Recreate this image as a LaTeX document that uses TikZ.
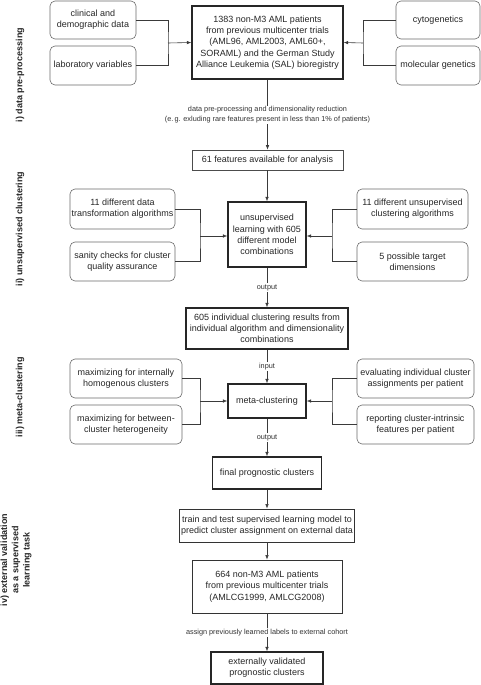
\documentclass[tikz,border=0pt]{standalone}
\usepackage{fontspec}
\setmainfont{Liberation Sans}
\usetikzlibrary{arrows.meta}
\definecolor{ln}{HTML}{3A3A3A}
\definecolor{rb}{HTML}{6A6A6A}
\tikzset{
  base/.style={align=center, inner sep=0pt, font=\fontsize{9}{11.2}\selectfont, text=black!85},
  rbox/.style={base, draw=rb, line width=0.6pt, rounded corners=5pt},
  tbox/.style={base, draw=black!85, line width=1.3pt},
  mbox/.style={base, draw=black!80, line width=0.9pt},
  sbox/.style={base, draw=black!70, line width=0.6pt},
  con/.style={draw=ln, line width=0.6pt},
  arr/.style={con, -{Latex[length=4.5pt,width=3.5pt]}},
  lbl/.style={fill=white, inner sep=1pt, align=center, font=\fontsize{7.3}{9.5}\selectfont, text=black!80},
  side/.style={rotate=90, align=center, font=\bfseries\fontsize{9}{11.3}\selectfont, text=black!85},
}
\begin{document}
\begin{tikzpicture}[x=1pt,y=-1pt]
\useasboundingbox (0,0) rectangle (481,685);
% level i
\node[rbox, minimum width=86, minimum height=38] (clin) at (93,20) {clinical and\\demographic data};
\node[rbox, minimum width=86, minimum height=39] (lab) at (93,65.5) {laboratory variables};
\node[tbox, minimum width=151, minimum height=73] (main) at (267.5,42.5) {1383 non-M3 AML patients\\from previous multicenter trials\\(AML96, AML2003, AML60+,\\SORAML) and the German Study\\Alliance Leukemia (SAL) bioregistry};
\node[rbox, minimum width=84, minimum height=38] (cyto) at (438,20) {cytogenetics};
\node[rbox, minimum width=84, minimum height=39] (mol) at (438,65.5) {molecular genetics};
\coordinate (jl1) at (168,43);
\coordinate (jr1) at (363,43);
\draw[con] (clin.east) -| (jl1) |- (lab.east);
\draw[arr] (jl1) -- (main.west);
\draw[con] (cyto.west) -| (jr1) |- (mol.west);
\draw[arr] (jr1) -- (main.east);
\node[sbox, minimum width=151, minimum height=20] (feat) at (267.5,160) {61 features available for analysis};
\draw[arr] (main.south) -- (feat.north) node[midway, lbl] {data pre-processing and dimensionality reduction\\(e.\,g. exluding rare features present in less than 1\% of patients)};
\node[side] (s1) at (20,75) {i) data pre-processing};
% level ii
\node[rbox, minimum width=105, minimum height=40] (trans) at (122.5,209) {11 different data\\transformation algorithms};
\node[rbox, minimum width=105, minimum height=39] (sanity) at (122.5,261.5) {sanity checks for cluster\\quality assurance};
\node[tbox, minimum width=78, minimum height=65] (unsup) at (267,234.5) {unsupervised\\learning with 605\\different model\\combinations};
\node[rbox, minimum width=111, minimum height=40] (clalg) at (412.5,209) {11 different unsupervised\\clustering algorithms};
\node[rbox, minimum width=111, minimum height=39] (dims) at (412.5,261.5) {5 possible target\\dimensions};
\coordinate (jl2) at (200,236);
\coordinate (jr2) at (332,236);
\draw[con] (trans.east) -| (jl2) |- (sanity.east);
\draw[arr] (jl2) -- (unsup.west |- jl2);
\draw[con] (clalg.west) -| (jr2) |- (dims.west);
\draw[arr] (jr2) -- (unsup.east |- jr2);
\draw[arr] (feat.south -| unsup.north) -- (unsup.north);
\node[side] (s2) at (20,229) {ii) unsupervised clustering};
% level iii
\node[tbox, minimum width=162, minimum height=41] (indiv) at (267,328.5) {605 individual clustering results from\\individual algorithm and dimensionality\\combinations};
\draw[arr] (unsup.south) -- (indiv.north) node[midway, lbl] {output};
\node[rbox, minimum width=112, minimum height=39] (maxint) at (126,378.5) {maximizing for internally\\homogenous clusters};
\node[rbox, minimum width=112, minimum height=39] (maxbet) at (126,424.5) {maximizing for between-\\cluster heterogeneity};
\node[tbox, minimum width=78, minimum height=34] (meta) at (267,401) {meta-clustering};
\node[rbox, minimum width=117, minimum height=39] (eval) at (415.5,378.5) {evaluating individual cluster\\assignments per patient};
\node[rbox, minimum width=117, minimum height=39] (report) at (415.5,424.5) {reporting cluster-intrinsic\\features per patient};
\coordinate (jl3) at (200,401);
\coordinate (jr3) at (332,401);
\draw[con] (maxint.east) -| (jl3) |- (maxbet.east);
\draw[arr] (jl3) -- (meta.west);
\draw[con] (eval.west) -| (jr3) |- (report.west);
\draw[arr] (jr3) -- (meta.east);
\draw[arr] (indiv.south) -- (meta.north) node[midway, lbl] {input};
\node[tbox, minimum width=109, minimum height=32] (final) at (267,473) {final prognostic clusters};
\draw[arr] (meta.south) -- (final.north) node[midway, lbl] {output};
\node[side] (s3) at (20,397) {iii) meta-clustering};
% level iv
\node[mbox, minimum width=175, minimum height=33] (train) at (267,525.5) {train and test supervised learning model to\\predict cluster assignment on external data};
\draw[arr] (final.south) -- (train.north);
\node[mbox, minimum width=150, minimum height=53] (ext) at (267,586.5) {664 non-M3 AML patients\\from previous multicenter trials\\(AMLCG1999, AMLCG2008)};
\draw[arr] (train.south) -- (ext.north);
\node[tbox, minimum width=112, minimum height=32] (valid) at (267,668) {externally validated\\prognostic clusters};
\draw[arr] (ext.south) -- (valid.north) node[midway, lbl] {assign previously learned labels to external cohort};
\node[side] (s4) at (16,560) {iv) external validation\\as a supervised\\learning task};
\end{tikzpicture}
\end{document}
